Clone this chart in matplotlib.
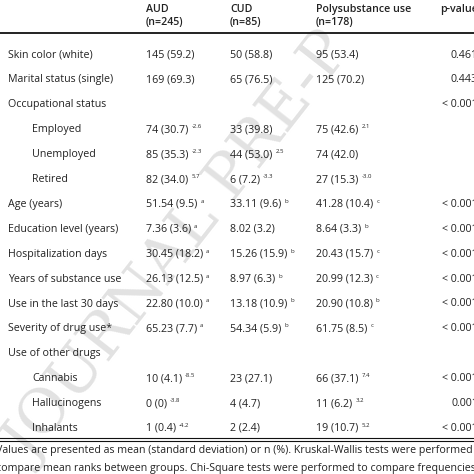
import matplotlib
matplotlib.use("Agg")
import matplotlib.pyplot as plt

labels = ["Skin color (white)", "Marital status (single)", "Occupational status",
          "Employed", "Unemployed", "Retired", "Age (years)", "Education level (years)",
          "Hospitalization days", "Years of substance use", "Use in the last 30 days",
          "Severity of drug use*", "Use of other drugs", "Cannabis", "Hallucinogens", "Inhalants"]
indent = [0, 0, 0, 1, 1, 1, 0, 0, 0, 0, 0, 0, 0, 1, 1, 1]
aud = ["145 (59.2)", "169 (69.3)", "", "74 (30.7)", "85 (35.3)", "82 (34.0)", "51.54 (9.5)",
       "7.36 (3.6)", "30.45 (18.2)", "26.13 (12.5)", "22.80 (10.0)", "65.23 (7.7)", "",
       "10 (4.1)", "0 (0)", "1 (0.4)"]
aud_sup = ["", "", "", "-2.6", "-2.3", "5.7", "a", "a", "a", "a", "a", "a", "", "-8.5", "-3.8", "-4.2"]
cud = ["50 (58.8)", "65 (76.5)", "", "33 (39.8)", "44 (53.0)", "6 (7.2)", "33.11 (9.6)",
       "8.02 (3.2)", "15.26 (15.9)", "8.97 (6.3)", "13.18 (10.9)", "54.34 (5.9)", "",
       "23 (27.1)", "4 (4.7)", "2 (2.4)"]
cud_sup = ["", "", "", "", "2.5", "-3.3", "b", "", "b", "b", "b", "b", "", "", "", ""]
poly = ["95 (53.4)", "125 (70.2)", "", "75 (42.6)", "74 (42.0)", "27 (15.3)", "41.28 (10.4)",
        "8.64 (3.3)", "20.43 (15.7)", "20.99 (12.3)", "20.90 (10.8)", "61.75 (8.5)", "",
        "66 (37.1)", "11 (6.2)", "19 (10.7)"]
poly_sup = ["", "", "", "2.1", "", "-3.0", "c", "b", "c", "c", "b", "c", "", "7.4", "3.2", "5.2"]
pvals = ["0.461", "0.443", "< 0.001", "", "", "", "< 0.001", "< 0.001", "< 0.001", "< 0.001",
         "< 0.001", "< 0.001", "", "< 0.001", "0.001", "< 0.001"]
headers = [("AUD", "(n=245)"), ("CUD", "(n=85)"), ("Polysubstance use", "(n=178)")]
footnote = ["Values are presented as mean (standard deviation) or n (%). Kruskal-Wallis tests were performed to",
            "compare mean ranks between groups. Chi-Square tests were performed to compare frequencies"]

W = H = 474
fig = plt.figure(figsize=(4.74, 4.74), dpi=100)
ax = fig.add_axes([0, 0, 1, 1])
ax.set_xlim(0, W); ax.set_ylim(H, 0); ax.axis("off")
FONT = "Open Sans"
FS = 7.7
col = "#222222"

ax.text(180, 250, "JOURNAL PRE-P", rotation=52, fontsize=44, color="#e2e2e2",
        ha="center", va="center", family="DejaVu Serif", zorder=0)

xs = [146, 230, 316]
for x, (a, b) in zip(xs, headers):
    ax.text(x, 9, a, fontsize=FS, family=FONT, color=col, va="center", fontweight="semibold")
    ax.text(x, 22, b, fontsize=FS, family=FONT, color=col, va="center", fontweight="semibold")
ax.text(440, 9, "p-value", fontsize=FS, family=FONT, color=col, va="center", fontweight="semibold")
ax.plot([0, W], [33, 33], color="#111111", lw=1.3)
ax.plot([0, W], [438, 438], color="#111111", lw=0.8)
ax.plot([0, W], [441, 441], color="#111111", lw=0.8)

fig.canvas.draw()
r = fig.canvas.get_renderer()
inv = ax.transData.inverted()

def cell(x, y, s, sup):
    if not s:
        return
    t = ax.text(x, y, s, fontsize=FS, family=FONT, color=col, va="center")
    if sup:
        bb = t.get_window_extent(r)
        x1 = inv.transform((bb.x1, 0))[0]
        ax.text(x1 + 3, y - 3, sup, fontsize=4.3, family=FONT, color=col, va="center")

y0, dy = 55, 24.9
for i, lab in enumerate(labels):
    y = y0 + i * dy
    ax.text(8 + 24 * indent[i], y, lab, fontsize=FS, family=FONT, color=col, va="center")
    cell(xs[0], y, aud[i], aud_sup[i])
    cell(xs[1], y, cud[i], cud_sup[i])
    cell(xs[2], y, poly[i], poly_sup[i])
    if pvals[i]:
        ax.text(478, y, pvals[i], fontsize=FS, family=FONT, color=col, va="center", ha="right")

ax.text(-4, 450, footnote[0], fontsize=FS, family=FONT, color=col, va="center")
ax.text(-4, 469, footnote[1], fontsize=FS, family=FONT, color=col, va="center")

fig.savefig("out.png", dpi=100)
